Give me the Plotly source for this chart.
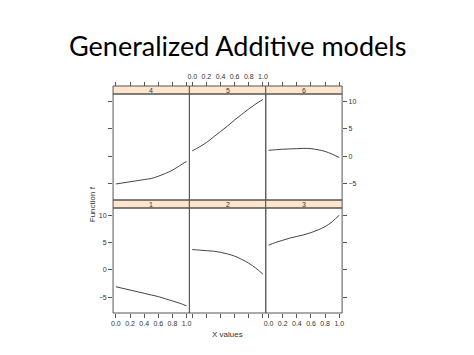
import plotly.graph_objects as go

W, H = 474, 355

title_text = "Generalized Additive models"
panel_labels = ["1", "2", "3", "4", "5", "6"]
x_values = [0.0, 0.1, 0.2, 0.3, 0.4, 0.5, 0.6, 0.7, 0.8, 0.9, 1.0]
f1 = [-3.1, -3.4, -3.7, -4.0, -4.3, -4.6, -4.9, -5.3, -5.7, -6.1, -6.6]
f2 = [3.7, 3.6, 3.5, 3.4, 3.2, 2.9, 2.5, 1.9, 1.2, 0.3, -0.8]
f3 = [4.5, 5.0, 5.4, 5.8, 6.1, 6.4, 6.8, 7.3, 7.9, 8.8, 10.0]
f4 = [-5.0, -4.8, -4.6, -4.4, -4.2, -4.0, -3.6, -3.1, -2.5, -1.7, -0.9]
f5 = [1.0, 1.7, 2.5, 3.5, 4.5, 5.5, 6.6, 7.6, 8.6, 9.5, 10.3]
f6 = [1.1, 1.2, 1.3, 1.35, 1.4, 1.45, 1.4, 1.2, 0.9, 0.4, -0.2]
series = [f1, f2, f3, f4, f5, f6]
x_ticks = [0.0, 0.2, 0.4, 0.6, 0.8, 1.0]
y_ticks = [-5, 0, 5, 10]
x_label = "X values"
y_label = "Function f"

# pixel geometry
cols_px = [(112, 189), (189, 266), (266, 343)]
rows_px = {"top": (94, 200, 86), "bottom": (208, 313, 200)}  # panel top, bottom, strip top

def px(x):
    return x / W

def py(y):
    return 1 - y / H

fig = go.Figure()
tick_font = dict(family="Liberation Sans, Arial, sans-serif", size=7, color="#333333")
line_col = "#555555"
XR = [-0.04, 1.04]
YR = [-7.9, 11.3]

shapes = []
annotations = []
for i in range(6):
    row = "bottom" if i < 3 else "top"
    col = i % 3
    x0, x1 = cols_px[col]
    ptop, pbot, stop = rows_px[row]
    n = i + 1
    xa = "x" if n == 1 else f"x{n}"
    ya = "y" if n == 1 else f"y{n}"
    fig.add_trace(go.Scatter(x=x_values, y=series[i], mode="lines",
                             line=dict(color="#444444", width=1, shape="spline"),
                             xaxis=xa, yaxis=ya, showlegend=False, hoverinfo="skip"))
    xk = "xaxis" if n == 1 else f"xaxis{n}"
    yk = "yaxis" if n == 1 else f"yaxis{n}"
    if row == "bottom":
        xaxis = dict(domain=[px(x0), px(x1)], range=XR, anchor=ya, side="bottom",
                     tickvals=x_ticks, tickformat=".1f", ticks="outside", ticklen=4,
                     tickcolor=line_col, showticklabels=(col != 1), tickfont=tick_font,
                     showgrid=False, zeroline=False, showline=False)
    else:
        xaxis = dict(domain=[px(x0), px(x1)], range=XR, anchor="free", position=py(stop),
                     side="top", tickvals=x_ticks, tickformat=".1f", ticks="outside",
                     ticklen=4, tickcolor=line_col, showticklabels=(col == 1),
                     tickfont=tick_font, showgrid=False, zeroline=False, showline=False)
    yaxis = dict(domain=[py(pbot), py(ptop)], range=YR, tickvals=y_ticks,
                 showgrid=False, zeroline=False, showline=False, tickfont=tick_font,
                 tickcolor=line_col, ticklen=4)
    if col == 0:
        yaxis.update(anchor=xa, side="left", ticks="outside",
                     showticklabels=(row == "bottom"))
    elif col == 2:
        yaxis.update(anchor=xa, side="right", ticks="outside",
                     showticklabels=(row == "top"))
    else:
        yaxis.update(anchor=xa, ticks="", showticklabels=False)
    fig.update_layout({xk: xaxis, yk: yaxis})
    shapes.append(dict(type="rect", xref="paper", yref="paper",
                       x0=px(x0), x1=px(x1), y0=py(pbot), y1=py(ptop),
                       line=dict(color=line_col, width=1), fillcolor="rgba(0,0,0,0)"))
    shapes.append(dict(type="rect", xref="paper", yref="paper",
                       x0=px(x0), x1=px(x1), y0=py(ptop), y1=py(stop),
                       line=dict(color=line_col, width=1), fillcolor="#ffe5cc",
                       layer="below"))
    annotations.append(dict(text=panel_labels[i], xref="paper", yref="paper",
                            x=px((x0 + x1) / 2), y=py((ptop + stop) / 2),
                            showarrow=False, font=tick_font, xanchor="center",
                            yanchor="middle"))

annotations.append(dict(text=title_text, xref="paper", yref="paper",
                        x=px(237), y=py(45), showarrow=False,
                        font=dict(family="Lato, sans-serif", size=27, color="#000000"),
                        xanchor="center", yanchor="middle"))
annotations.append(dict(text=x_label, xref="paper", yref="paper",
                        x=px(227), y=py(334), showarrow=False,
                        font=dict(family="Liberation Sans, Arial, sans-serif", size=8, color="#333333"),
                        xanchor="center", yanchor="middle"))
annotations.append(dict(text=y_label, xref="paper", yref="paper",
                        x=px(91), y=py(204), showarrow=False, textangle=-90,
                        font=dict(family="Liberation Sans, Arial, sans-serif", size=8, color="#333333"),
                        xanchor="center", yanchor="middle"))

fig.update_layout(width=W, height=H, margin=dict(l=0, r=0, t=0, b=0),
                  paper_bgcolor="white", plot_bgcolor="white",
                  shapes=shapes, annotations=annotations, showlegend=False)

fig.write_html("out.html", config={"displayModeBar": False},
               post_script="document.body.style.margin='0';document.body.style.padding='0';")
